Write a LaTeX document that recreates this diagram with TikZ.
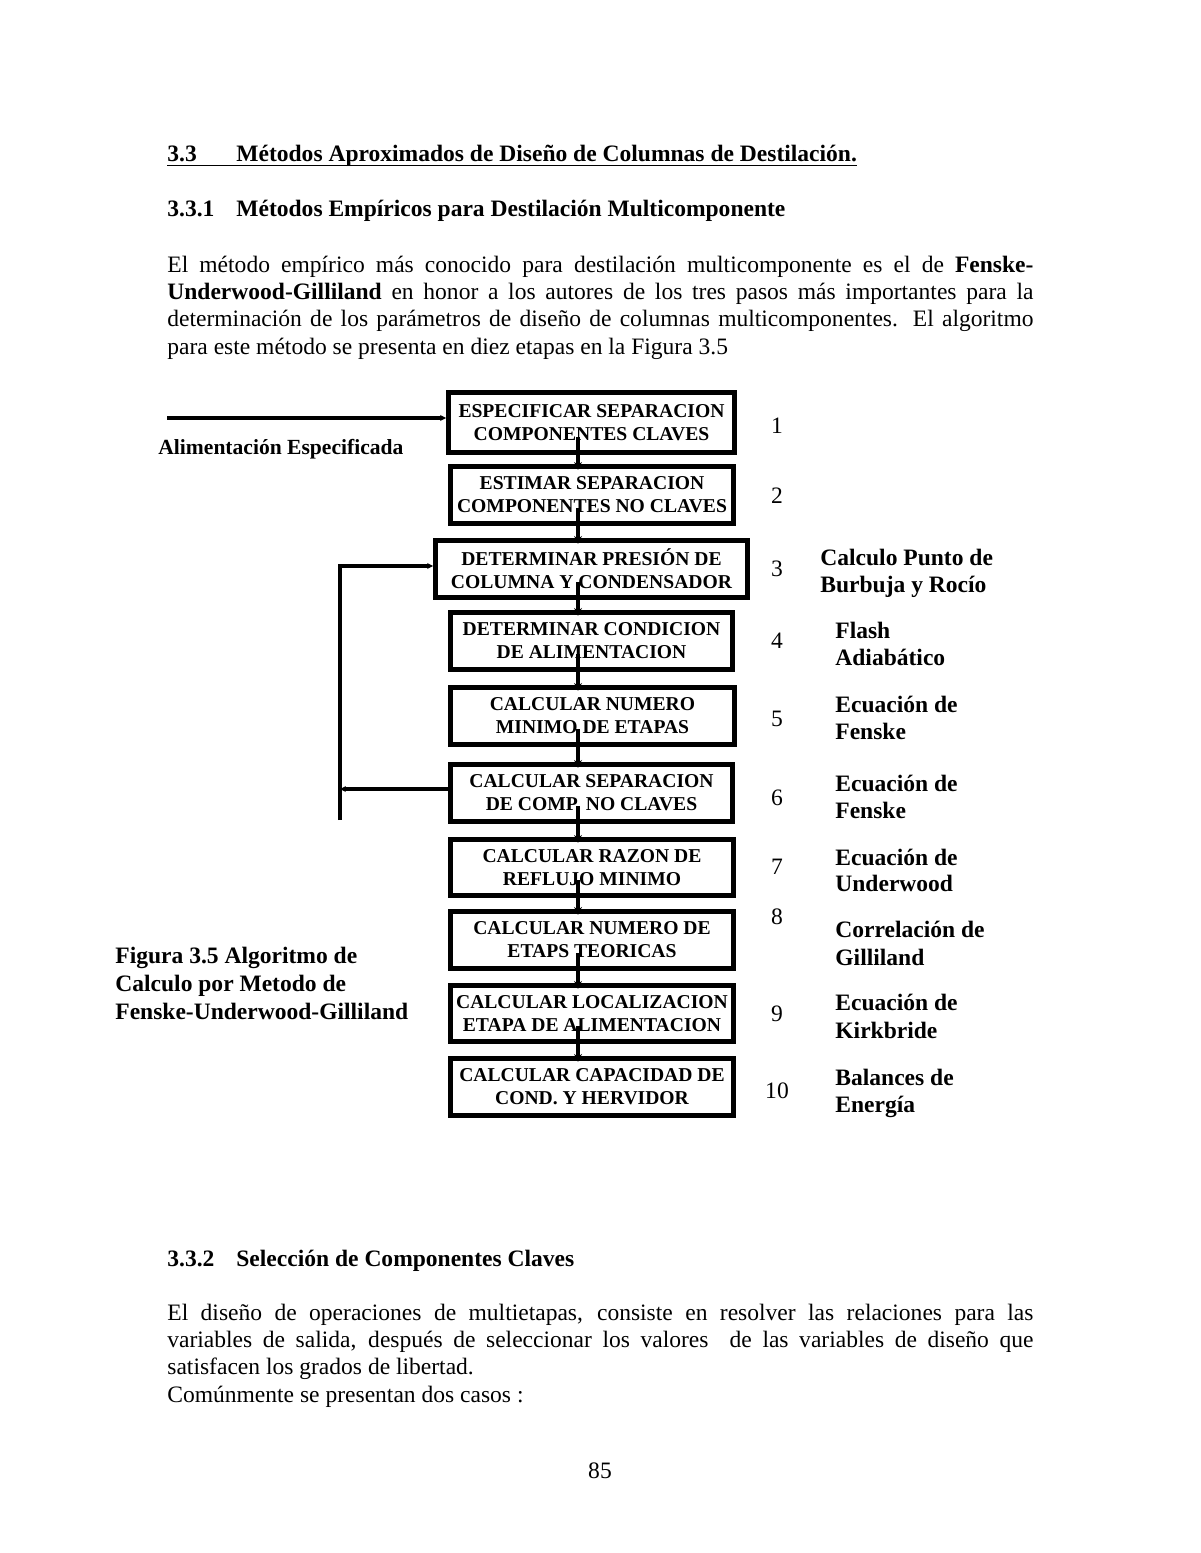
\documentclass[tikz,border=0pt]{standalone}
\usepackage{fontspec}
\setmainfont{Liberation Serif}
\usetikzlibrary{arrows.meta}
\newcommand\jline[1]{\makebox[441.7pt][s]{#1}}
\newcommand\secno[1]{\makebox[35.2pt][l]{#1}}
\begin{document}
\begin{tikzpicture}[x=0.51pt,y=-0.51pt,
  stepbox/.style={draw, line width=2.5pt, inner sep=0pt, align=center,
    font=\bfseries\fontsize{10}{11.7}\selectfont},
  conn/.style={line width=2pt, -{Stealth[length=4pt,width=4pt]}, shorten <=-9pt, shorten >=-3pt},
  loopl/.style={line width=2pt, -{Stealth[length=3pt,width=3pt]}},
  plainl/.style={line width=2pt},
  lbl/.style={anchor=base west, inner sep=0pt, font=\bfseries\fontsize{12}{13.8}\selectfont},
  num/.style={anchor=base, inner sep=0pt, font=\fontsize{12}{13.8}\selectfont},
  body/.style={anchor=base west, inner sep=0pt, font=\fontsize{12}{14}\selectfont},
  head/.style={anchor=base west, inner sep=0pt, font=\bfseries\fontsize{12}{14}\selectfont},
]
\useasboundingbox[fill=white] (0,0) rectangle (1200,1553);

% ---- text above ----
\node[head] (h1) at (167,162) {\secno{3.3}Métodos Aproximados de Diseño de Columnas de Destilación.};
\draw[line width=0.6pt] ([yshift=-1.8pt]h1.base west) -- ([yshift=-1.8pt]h1.base east);
\node[head] (h2) at (167,217) {\secno{3.3.1}Métodos Empíricos para Destilación Multicomponente};
\node[body] (p1a) at (167,272) {\jline{El método empírico más conocido para destilación multicomponente es el de \textbf{Fenske-}}};
\node[body] (p1b) at (167,299) {\jline{\textbf{Underwood-Gilliland} en honor a los autores de los tres pasos más importantes para la}};
\node[body] (p1c) at (167,326) {\jline{determinación de los parámetros de diseño de columnas multicomponentes. El algoritmo}};
\node[body] (p1d) at (167,354) {para este método se presenta en diez etapas en la Figura 3.5};

% ---- boxes ----
\node[stepbox, minimum width=145.9pt, minimum height=30.6pt] (b1) at (591.5,422.5) {ESPECIFICAR SEPARACION\\COMPONENTES CLAVES};
\node[stepbox, minimum width=144.3pt, minimum height=29.1pt] (b2) at (592,495) {ESTIMAR SEPARACION\\COMPONENTES NO CLAVES};
\node[stepbox, minimum width=159.1pt, minimum height=29.1pt] (b3) at (591.5,569) {DETERMINAR PRESIÓN DE\\COLUMNA Y CONDENSADOR};
\node[stepbox, minimum width=143.8pt, minimum height=29.1pt] (b4) at (591.5,641) {DETERMINAR CONDICION\\DE ALIMENTACION};
\node[stepbox, minimum width=144.8pt, minimum height=29.1pt] (b5) at (592.5,716) {CALCULAR NUMERO\\MINIMO DE ETAPAS};
\node[stepbox, minimum width=143.8pt, minimum height=29.1pt] (b6) at (591.5,793) {CALCULAR SEPARACION\\DE COMP. NO CLAVES};
\node[stepbox, minimum width=144.3pt, minimum height=28.6pt] (b7) at (592,867.5) {CALCULAR RAZON DE\\REFLUJO MINIMO};
\node[stepbox, minimum width=144.3pt, minimum height=29.1pt] (b8) at (592,940) {CALCULAR NUMERO DE\\ETAPS TEORICAS};
\node[stepbox, minimum width=144.3pt, minimum height=28.6pt] (b9) at (592,1013.5) {CALCULAR LOCALIZACION\\ETAPA DE ALIMENTACION};
\node[stepbox, minimum width=144.3pt, minimum height=29.1pt] (b10) at (592,1087) {CALCULAR CAPACIDAD DE\\COND. Y HERVIDOR};

% ---- connectors ----
\coordinate (cx) at (578,0);
\foreach \a/\b in {b1/b2,b2/b3,b3/b4,b4/b5,b5/b6,b6/b7,b7/b8,b8/b9,b9/b10}
  \draw[conn] (\a.south -| cx) -- (\b.north -| cx);

\coordinate (feed) at (167,418);
\draw[loopl] (feed) -- (feed -| b1.west);
\node[anchor=base west, inner sep=0pt, font=\bfseries\fontsize{11}{13}\selectfont] (alim) at (158,454) {Alimentación Especificada};

\coordinate (lb) at (340,820);
\coordinate (lt) at (340,566);
\draw[plainl] (lb) -- (lt);
\draw[loopl] ([xshift=-1pt]lt) -- (lt -| b3.west);
\draw[loopl] ([yshift=2pt]b6.west) -- ([yshift=2pt]b6.west -| lb);

% ---- step numbers ----
\node[num] (n1) at (777,433) {1};
\node[num] (n2) at (777,503) {2};
\node[num] (n3) at (777,576) {3};
\node[num] (n4) at (777,648) {4};
\node[num] (n5) at (777,726) {5};
\node[num] (n6) at (777,805) {6};
\node[num] (n7) at (777,874) {7};
\node[num] (n8) at (777,924) {8};
\node[num] (n9) at (777,1021) {9};
\node[num] (n10) at (777,1098) {10};

% ---- right labels ----
\node[lbl] (l3a) at (820,565) {Calculo Punto de};
\node[lbl] (l3b) at (820,592) {Burbuja y Rocío};
\node[lbl] (l4a) at (835,638) {Flash};
\node[lbl] (l4b) at (835,665) {Adiabático};
\node[lbl] (l5a) at (835,712) {Ecuación de};
\node[lbl] (l5b) at (835,739) {Fenske};
\node[lbl] (l6a) at (835,791) {Ecuación de};
\node[lbl] (l6b) at (835,818) {Fenske};
\node[lbl] (l7a) at (835,865) {Ecuación de};
\node[lbl] (l7b) at (835,891) {Underwood};
\node[lbl] (l8a) at (835,937) {Correlación de};
\node[lbl] (l8b) at (835,965) {Gilliland};
\node[lbl] (l9a) at (835,1010) {Ecuación de};
\node[lbl] (l9b) at (835,1038) {Kirkbride};
\node[lbl] (l10a) at (835,1085) {Balances de};
\node[lbl] (l10b) at (835,1112) {Energía};

% ---- caption ----
\node[lbl] (c1) at (115,963) {Figura 3.5 Algoritmo de};
\node[lbl] (c2) at (115,991) {Calculo por Metodo de};
\node[lbl] (c3) at (115,1019) {Fenske-Underwood-Gilliland};

% ---- text below ----
\node[head] (h3) at (167,1266) {\secno{3.3.2}Selección de Componentes Claves};
\node[body] (p2a) at (167,1320) {\jline{El diseño de operaciones de multietapas, consiste en resolver las relaciones para las}};
\node[body] (p2b) at (167,1347) {\jline{variables de salida, después de seleccionar los valores \ de las variables de diseño que}};
\node[body] (p2c) at (167,1374) {satisfacen los grados de libertad.};
\node[body] (p2d) at (167,1402) {Comúnmente se presentan dos casos :};
\node[num] (pg) at (600,1478) {85};
\end{tikzpicture}
\end{document}
